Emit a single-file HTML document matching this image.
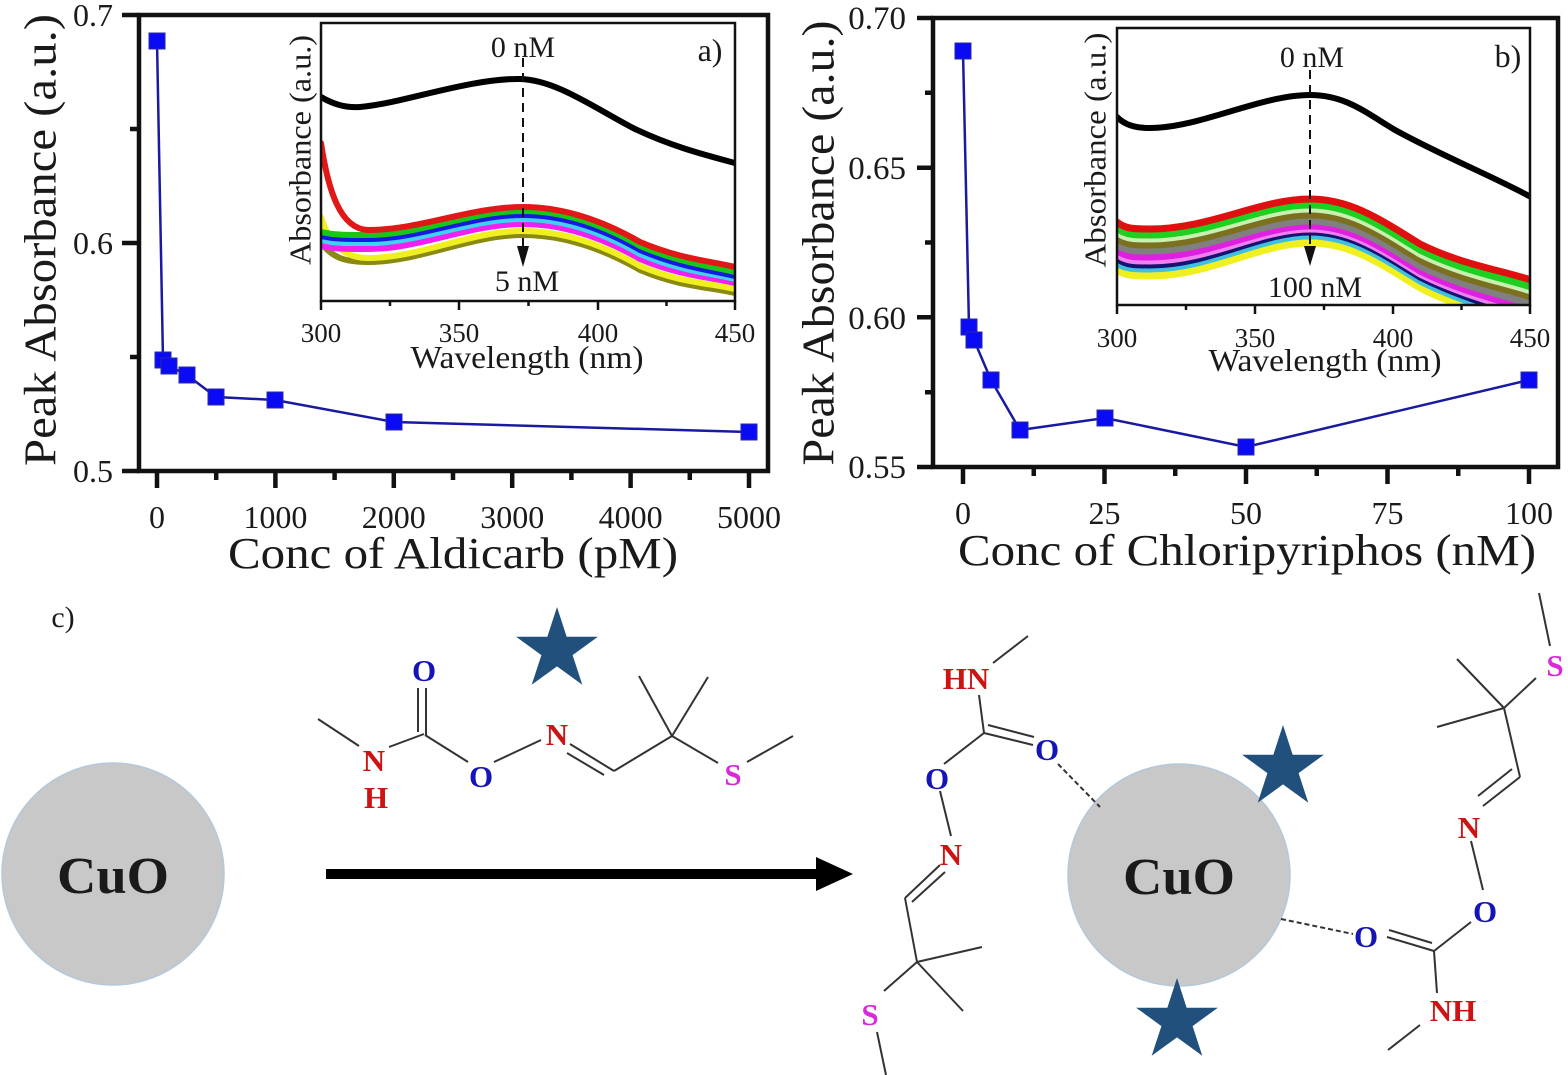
<!DOCTYPE html>
<html>
<head>
<meta charset="utf-8">
<style>
html,body{margin:0;padding:0;background:#fff;}
svg{display:block;}
text{font-family:"Liberation Serif","Times New Roman",Times,serif;fill:#1a1a1a;}
.atom{font-weight:bold;font-size:31px;}
</style>
</head>
<body>
<svg width="1568" height="1075" viewBox="0 0 1568 1075" xmlns="http://www.w3.org/2000/svg" font-family="Liberation Serif, Times New Roman, serif">
<defs>
  <clipPath id="ca"><rect x="321" y="23" width="414" height="278"/></clipPath>
  <clipPath id="cb"><rect x="1117" y="28" width="413" height="277"/></clipPath>
  <polygon id="star" points="0,-43 9.65,-13.3 40.9,-13.3 15.6,5.07 25.3,34.8 0,16.4 -25.3,34.8 -15.6,5.07 -40.9,-13.3 -9.65,-13.3" fill="#22507d"/>
</defs>

<!-- ================= LEFT PLOT (a) ================= -->
<rect x="139" y="15" width="629" height="456" fill="none" stroke="#111" stroke-width="4.5"/>
<path d="M139,15H122 M139,243H122 M139,471H122 M139,129H130 M139,357H130" stroke="#111" stroke-width="4.5"/>
<path d="M157,471V488 M275.4,471V488 M393.8,471V488 M512.2,471V488 M630.6,471V488 M749,471V488 M216.2,471V480 M334.6,471V480 M453,471V480 M571.4,471V480 M689.8,471V480" stroke="#111" stroke-width="4.5"/>
<g font-size="32" text-anchor="end">
  <text x="113" y="26">0.7</text>
  <text x="113" y="254">0.6</text>
  <text x="113" y="482">0.5</text>
</g>
<g font-size="32" text-anchor="middle">
  <text x="157" y="528">0</text>
  <text x="275.4" y="528">1000</text>
  <text x="393.8" y="528">2000</text>
  <text x="512.2" y="528">3000</text>
  <text x="630.6" y="528">4000</text>
  <text x="749" y="528">5000</text>
</g>
<text x="453" y="568" font-size="44" text-anchor="middle" textLength="450" lengthAdjust="spacingAndGlyphs">Conc of Aldicarb (pM)</text>
<text transform="translate(40,240) rotate(-90)" font-size="46" text-anchor="middle" dominant-baseline="central" textLength="452" lengthAdjust="spacingAndGlyphs">Peak Absorbance (a.u.)</text>

<!-- inset a -->
<g clip-path="url(#ca)" fill="none" stroke-width="6" stroke-linecap="round">
  <path stroke="#8a8a10" d="M321,243 C333,258 345,262 368,262 C420,262 470,235 523,235 C560,235 600,247 640,270 C680,287 710,287 735,293"/>
  <path stroke="#f0f020" d="M321,217 C330,245 345,258 368,258 C420,258 470,231 523,231 C560,231 600,243 640,266 C680,283 710,283 735,289"/>
  <path stroke="#f020f0" d="M321,246 C335,249 345,249 368,249 C420,249 470,224 523,224 C560,224 600,236 640,259 C680,276 710,277 735,283"/>
  <path stroke="#40d0f0" d="M321,240 C335,243 345,243 368,243 C420,243 470,219 523,219 C560,219 600,231 640,254 C680,271 710,273 735,279"/>
  <path stroke="#1818e0" d="M321,236 C335,239 345,239 368,239 C420,239 470,215 523,215 C560,215 600,227 640,250 C680,267 710,270 735,276"/>
  <path stroke="#18c818" d="M321,232 C335,235 345,235 368,235 C420,235 470,211 523,211 C560,211 600,223 640,246 C680,263 710,266 735,272"/>
  <path stroke="#e01818" d="M321,143 C328,190 340,229 368,230 C420,230 470,207 523,207 C560,207 600,219 640,242 C680,259 710,261 735,267"/>
  <path stroke="#000" stroke-width="6" d="M321,97 C333,104 345,108 360,107 C400,104 470,78 520,79 C555,80 590,105 633,128 C670,146 705,155 735,163"/>
</g>
<rect x="321" y="23" width="414" height="278" fill="none" stroke="#111" stroke-width="2.5"/>
<path d="M321,301V310 M459,301V310 M598,301V310 M735,301V310 M390,301V306 M528.5,301V306 M666.5,301V306" stroke="#111" stroke-width="2.5"/>
<line x1="523" y1="58" x2="523" y2="250" stroke="#111" stroke-width="2" stroke-dasharray="9,6"/>
<polygon points="517,246 529,246 523,267" fill="#111"/>
<g font-size="27" text-anchor="middle">
  <text x="321" y="342">300</text>
  <text x="459" y="342">350</text>
  <text x="598" y="342">400</text>
  <text x="735" y="342">450</text>
</g>
<text x="527" y="368" font-size="32" text-anchor="middle" textLength="233" lengthAdjust="spacingAndGlyphs">Wavelength (nm)</text>
<text transform="translate(300,150) rotate(-90)" font-size="31" text-anchor="middle" dominant-baseline="central" textLength="230" lengthAdjust="spacingAndGlyphs">Absorbance (a.u.)</text>
<text x="523" y="57" font-size="30" text-anchor="middle">0 nM</text>
<text x="527" y="291" font-size="30" text-anchor="middle">5 nM</text>
<text x="710" y="61" font-size="32" text-anchor="middle">a)</text>

<!-- main data a -->
<polyline fill="none" stroke="#1a1aa0" stroke-width="2.5" points="157,41 163,360 169,366 187,375 216,397 275,400 394,422 749,432"/>
<g fill="#0a0af5" stroke="#2a2aa0" stroke-width="1">
  <rect x="149" y="33" width="16" height="16"/>
  <rect x="155" y="352" width="16" height="16"/>
  <rect x="161" y="358" width="16" height="16"/>
  <rect x="179" y="367" width="16" height="16"/>
  <rect x="208" y="389" width="16" height="16"/>
  <rect x="267" y="392" width="16" height="16"/>
  <rect x="386" y="414" width="16" height="16"/>
  <rect x="741" y="424" width="16" height="16"/>
</g>

<!-- ================= RIGHT PLOT (b) ================= -->
<rect x="933" y="18" width="625" height="449" fill="none" stroke="#111" stroke-width="4.5"/>
<path d="M933,18H917 M933,167.7H917 M933,317.3H917 M933,467H917 M933,92.8H925 M933,242.5H925 M933,392.2H925" stroke="#111" stroke-width="4.5"/>
<path d="M963,467V484 M1104.5,467V484 M1246,467V484 M1387.5,467V484 M1529,467V484 M1033.75,467V476 M1175.25,467V476 M1316.75,467V476 M1458.25,467V476" stroke="#111" stroke-width="4.5"/>
<g font-size="33" text-anchor="end">
  <text x="906" y="29">0.70</text>
  <text x="906" y="179">0.65</text>
  <text x="906" y="329">0.60</text>
  <text x="906" y="478">0.55</text>
</g>
<g font-size="32" text-anchor="middle">
  <text x="963" y="524">0</text>
  <text x="1104.5" y="524">25</text>
  <text x="1246" y="524">50</text>
  <text x="1387.5" y="524">75</text>
  <text x="1529" y="524">100</text>
</g>
<text x="1247" y="565" font-size="44" text-anchor="middle" textLength="578" lengthAdjust="spacingAndGlyphs">Conc of Chloripyriphos (nM)</text>
<text transform="translate(818,243) rotate(-90)" font-size="46" text-anchor="middle" dominant-baseline="central" textLength="445" lengthAdjust="spacingAndGlyphs">Peak Absorbance (a.u.)</text>

<!-- inset b -->
<g clip-path="url(#cb)" fill="none" stroke-width="7" stroke-linecap="round">
  <path stroke="#f0f020" d="M1117,270 C1125,276 1135,276 1150,276 C1210,276 1260,243 1310,243 C1350,243 1380,263 1420,288 C1460,308 1500,318 1531,328"/>
  <path stroke="#40c0e0" d="M1117,263 C1125,269 1135,269 1150,269 C1210,269 1260,236 1310,236 C1350,236 1380,256 1420,281 C1460,301 1500,312 1531,322"/>
  <path stroke="#141470" d="M1117,258 C1125,265 1135,265 1150,265 C1210,265 1260,232 1310,232 C1350,232 1380,252 1420,277 C1460,297 1500,308 1531,318"/>
  <path stroke="#f080f0" d="M1117,254 C1125,261 1135,261 1150,261 C1210,261 1260,229 1310,229 C1350,229 1380,249 1420,274 C1460,294 1500,304 1531,314"/>
  <path stroke="#e020e0" d="M1117,250 C1125,257 1135,257 1150,257 C1210,257 1260,226 1310,226 C1350,226 1380,246 1420,271 C1460,291 1500,300 1531,310"/>
  <path stroke="#808080" d="M1117,244 C1125,251 1135,251 1150,251 C1210,251 1260,221 1310,221 C1350,221 1380,241 1420,266 C1460,286 1500,294 1531,304"/>
  <path stroke="#7a7020" d="M1117,238 C1125,245 1135,245 1150,245 C1210,245 1260,215 1310,215 C1350,215 1380,235 1420,260 C1460,280 1500,287 1531,297"/>
  <path stroke="#c8f0b0" d="M1117,232 C1125,239 1135,239 1150,239 C1210,239 1260,209 1310,209 C1350,209 1380,229 1420,254 C1460,274 1500,281 1531,291"/>
  <path stroke="#20d020" d="M1117,228 C1125,235 1135,235 1150,235 C1210,235 1260,205 1310,205 C1350,205 1380,225 1420,250 C1460,270 1500,277 1531,287"/>
  <path stroke="#e01010" d="M1117,222 C1125,229 1135,229 1150,229 C1210,229 1260,199 1310,199 C1350,199 1380,219 1420,244 C1460,264 1500,270 1531,280"/>
  <path stroke="#000" stroke-width="6" d="M1117,117 C1125,125 1135,128 1150,128 C1200,128 1260,95 1310,95 C1345,95 1365,112 1395,130 C1440,155 1490,175 1531,197"/>
</g>
<rect x="1117" y="28" width="413" height="277" fill="none" stroke="#111" stroke-width="2.5"/>
<path d="M1117,305V314 M1255,305V314 M1393,305V314 M1530,305V314 M1186,305V310 M1324,305V310 M1461.5,305V310" stroke="#111" stroke-width="2.5"/>
<line x1="1310" y1="70" x2="1310" y2="252" stroke="#111" stroke-width="2" stroke-dasharray="9,6"/>
<polygon points="1304,246 1316,246 1310,266" fill="#111"/>
<g font-size="27" text-anchor="middle">
  <text x="1117" y="347">300</text>
  <text x="1255" y="347">350</text>
  <text x="1393" y="347">400</text>
  <text x="1530" y="347">450</text>
</g>
<text x="1325" y="371" font-size="32" text-anchor="middle" textLength="233" lengthAdjust="spacingAndGlyphs">Wavelength (nm)</text>
<text transform="translate(1095,150) rotate(-90)" font-size="31" text-anchor="middle" dominant-baseline="central" textLength="235" lengthAdjust="spacingAndGlyphs">Absorbance (a.u.)</text>
<text x="1312" y="67" font-size="30" text-anchor="middle">0 nM</text>
<text x="1315" y="297" font-size="30" text-anchor="middle">100 nM</text>
<text x="1508" y="67" font-size="32" text-anchor="middle">b)</text>

<!-- main data b -->
<polyline fill="none" stroke="#1a1aa0" stroke-width="2.5" points="963,51 969,327 974,340 991,380 1020,430 1105,418 1246,447 1529,380"/>
<g fill="#0a0af5" stroke="#2a2aa0" stroke-width="1">
  <rect x="955" y="43" width="16" height="16"/>
  <rect x="961" y="319" width="16" height="16"/>
  <rect x="966" y="332" width="16" height="16"/>
  <rect x="983" y="372" width="16" height="16"/>
  <rect x="1012" y="422" width="16" height="16"/>
  <rect x="1097" y="410" width="16" height="16"/>
  <rect x="1238" y="439" width="16" height="16"/>
  <rect x="1521" y="372" width="16" height="16"/>
</g>

<!-- ================= SCHEME (c) ================= -->
<text x="63" y="627" font-size="30" text-anchor="middle">c)</text>

<circle cx="113" cy="874" r="111" fill="#c8c8c8" stroke="#b4c8dc" stroke-width="1.5"/>
<text x="113" y="893" font-size="52" font-weight="bold" text-anchor="middle" textLength="112" lengthAdjust="spacingAndGlyphs">CuO</text>

<line x1="326" y1="874" x2="822" y2="874" stroke="#000" stroke-width="10"/>
<polygon points="816,857 853,874 816,891" fill="#000"/>

<use href="#star" transform="translate(557,650)"/>

<!-- free aldicarb molecule -->
<g stroke="#333" stroke-width="2" fill="none">
  <line x1="318" y1="719" x2="359" y2="746"/>
  <line x1="389" y1="747" x2="424" y2="734"/>
  <line x1="418" y1="688" x2="418" y2="732"/>
  <line x1="426" y1="688" x2="426" y2="735"/>
  <line x1="425" y1="735" x2="468" y2="762"/>
  <line x1="494" y1="762" x2="541" y2="740"/>
  <line x1="570" y1="744" x2="614" y2="771"/>
  <line x1="567" y1="753" x2="604" y2="775"/>
  <line x1="614" y1="771" x2="672" y2="736"/>
  <line x1="672" y1="736" x2="639" y2="676"/>
  <line x1="672" y1="736" x2="708" y2="677"/>
  <line x1="672" y1="736" x2="718" y2="763"/>
  <line x1="747" y1="762" x2="793" y2="736"/>
</g>
<g class="atom" text-anchor="middle">
  <text x="424" y="681" style="fill:#1515b5">O</text>
  <text x="374" y="771" style="fill:#cc1414">N</text>
  <text x="376" y="808" style="fill:#cc1414">H</text>
  <text x="481" y="787" style="fill:#1515b5">O</text>
  <text x="557" y="745" style="fill:#cc1414">N</text>
  <text x="733" y="785" style="fill:#d82ad8">S</text>
</g>

<!-- CuO with bound molecules -->
<circle cx="1179" cy="875" r="111" fill="#c8c8c8" stroke="#b4c8dc" stroke-width="1.5"/>
<text x="1179" y="894" font-size="52" font-weight="bold" text-anchor="middle" textLength="112" lengthAdjust="spacingAndGlyphs">CuO</text>
<use href="#star" transform="translate(1283,768)"/>
<use href="#star" transform="translate(1177,1021)"/>

<g stroke="#333" stroke-width="2" fill="none">
  <!-- left bound molecule -->
  <line x1="1028" y1="636" x2="993" y2="663"/>
  <line x1="979" y1="695" x2="984" y2="733"/>
  <line x1="984" y1="733" x2="1033" y2="745"/>
  <line x1="988" y1="725" x2="1034" y2="737"/>
  <line x1="984" y1="733" x2="944" y2="764"/>
  <line x1="940" y1="791" x2="951" y2="836"/>
  <line x1="940" y1="865" x2="905" y2="898"/>
  <line x1="945" y1="872" x2="912" y2="902"/>
  <line x1="905" y1="898" x2="917" y2="962"/>
  <line x1="917" y1="962" x2="982" y2="947"/>
  <line x1="917" y1="962" x2="963" y2="1011"/>
  <line x1="917" y1="962" x2="884" y2="991"/>
  <line x1="877" y1="1032" x2="886" y2="1075"/>
  <!-- right bound molecule -->
  <line x1="1539" y1="593" x2="1550" y2="646"/>
  <line x1="1536" y1="678" x2="1504" y2="708"/>
  <line x1="1504" y1="708" x2="1457" y2="659"/>
  <line x1="1504" y1="708" x2="1437" y2="727"/>
  <line x1="1504" y1="708" x2="1520" y2="777"/>
  <line x1="1520" y1="777" x2="1483" y2="806"/>
  <line x1="1512" y1="769" x2="1478" y2="796"/>
  <line x1="1471" y1="841" x2="1483" y2="890"/>
  <line x1="1471" y1="922" x2="1434" y2="951"/>
  <line x1="1434" y1="951" x2="1387" y2="937"/>
  <line x1="1432" y1="943" x2="1389" y2="930"/>
  <line x1="1434" y1="951" x2="1437" y2="993"/>
  <line x1="1420" y1="1025" x2="1388" y2="1050"/>
</g>
<g stroke="#333" stroke-width="2" stroke-dasharray="5,3">
  <line x1="1058" y1="764" x2="1100" y2="807"/>
  <line x1="1281" y1="919" x2="1353" y2="934"/>
</g>
<g class="atom" text-anchor="middle">
  <text x="966" y="689" style="fill:#cc1414">HN</text>
  <text x="1047" y="760" style="fill:#1515b5">O</text>
  <text x="937" y="789" style="fill:#1515b5">O</text>
  <text x="951" y="865" style="fill:#cc1414">N</text>
  <text x="870" y="1025" style="fill:#d82ad8">S</text>
  <text x="1555" y="676" style="fill:#d82ad8">S</text>
  <text x="1469" y="838" style="fill:#cc1414">N</text>
  <text x="1485" y="922" style="fill:#1515b5">O</text>
  <text x="1366" y="947" style="fill:#1515b5">O</text>
  <text x="1453" y="1021" style="fill:#cc1414">NH</text>
</g>
</svg>
</body>
</html>
